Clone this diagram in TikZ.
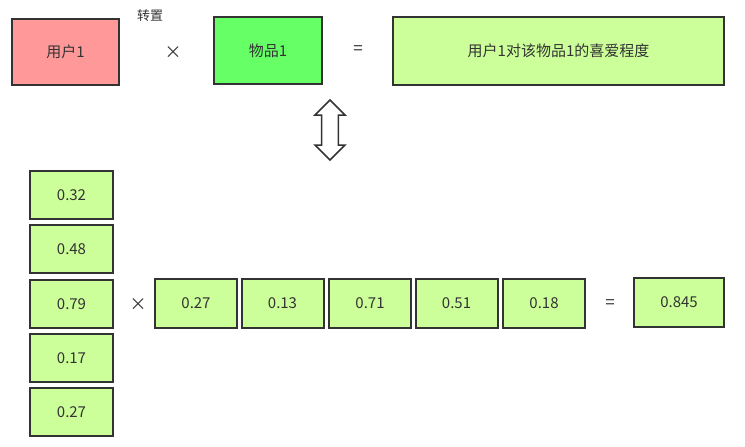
\documentclass[tikz,border=0pt]{standalone}
\usepackage{fontspec}
\setmainfont{Noto Sans CJK SC}
\usetikzlibrary{shapes.arrows}
\definecolor{redf}{HTML}{FF9999}
\definecolor{greenf}{HTML}{66FF66}
\definecolor{lightf}{HTML}{CCFF99}
\definecolor{bd}{HTML}{333333}
\begin{document}
\begin{tikzpicture}[x=1pt,y=-1pt,
  bx/.style={draw=bd,line width=2pt,inner sep=0pt,font=\fontsize{15}{18}\selectfont,text=bd},
  op/.style={font=\fontsize{17}{20}\selectfont,text=bd}]
\useasboundingbox (0,0) rectangle (745,447);
\node[bx,fill=redf,minimum width=107,minimum height=66] (u) at (65.5,52) {用户1};
\node[font=\fontsize{13}{15}\selectfont,text=bd] (t) at (150,16) {转置};
\node[op] (x1) at (173,53) {×};
\node[bx,fill=greenf,minimum width=108,minimum height=67] (i) at (268,50.5) {物品1};
\node[op] (e1) at (358,50) {=};
\node[bx,fill=lightf,minimum width=331,minimum height=68] (r) at (558.5,51) {用户1对该物品1的喜爱程度};
\node[double arrow,draw=bd,line width=1.5pt,fill=white,rotate=90,minimum height=60,minimum width=30,double arrow head extend=3pt,inner sep=3pt] (da) at (330,130) {};
\foreach \n/\y/\t in {c1/195/0.32,c2/249/0.48,c3/304/0.79,c4/358/0.17,c5/412/0.27}
  \node[bx,fill=lightf,minimum width=83,minimum height=48] (\n) at (71.5,\y) {\t};
\node[op] (x2) at (138,305) {×};
\foreach \n/\x/\t in {r1/196/0.27,r2/282.5/0.13,r3/370/0.71,r4/456.5/0.51,r5/544/0.18}
  \node[bx,fill=lightf,minimum width=82,minimum height=49] (\n) at (\x,303) {\t};
\node[op] (e2) at (610,304) {=};
\node[bx,fill=lightf,minimum width=90,minimum height=49] (v) at (679,302.5) {0.845};
\end{tikzpicture}
\end{document}
